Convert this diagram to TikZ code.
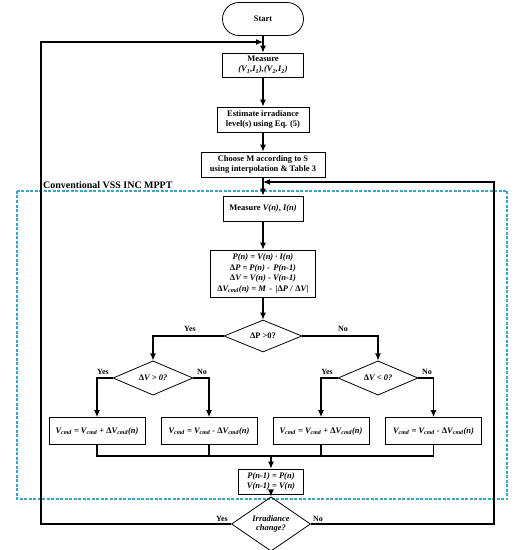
\documentclass[tikz,border=0pt]{standalone}
\usepackage{fontspec}
\setmainfont{Liberation Serif}
\usetikzlibrary{shapes.geometric,arrows.meta,positioning}
\definecolor{vssteal}{RGB}{60,165,195}
\newcommand{\vcmd}{V\textsubscript{cmd}}
\newcommand{\dlt}{\textup{Δ}}
\tikzset{
	procbox/.style={draw,line width=0.8bp,inner sep=1bp},
	decbox/.style={draw,diamond,line width=0.8bp,inner sep=0pt},
	flow/.style={line width=1.1bp},
	yn/.style={inner sep=0pt,font=\fontsize{8}{9}\selectfont\bfseries}
}
\begin{document}
\begin{tikzpicture}[x=1bp,y=-1bp,>={Latex[length=7bp,width=6bp]},
	every node/.append style={font=\fontsize{8.5}{10}\selectfont\bfseries,align=center}]
	\useasboundingbox (0,0) rectangle (523,550);
	% khung VSS INC
	\draw[vssteal,line width=1.4bp,dash pattern=on 3bp off 1.5bp] (17,191) rectangle (507,499);
	\node[anchor=south west,inner sep=0pt,font=\fontsize{10}{12}\selectfont\bfseries] (vsslbl) at (43,189) {Conventional VSS INC MPPT};
	% các khối chính
	\node[procbox,rounded corners=16.5bp,minimum width=81bp,minimum height=33bp] (start) at (263,19) {Start};
	\node[procbox,minimum width=81bp,minimum height=24bp] (meas1) at (263,65) {Measure\\\itshape (V\textsubscript{1},I\textsubscript{1}),(V\textsubscript{2},I\textsubscript{2})};
	\node[procbox,minimum width=92bp,minimum height=25bp] (est) at (263,119.5) {Estimate irradiance\\level(s) using Eq. (5)};
	\node[procbox,minimum width=124bp,minimum height=25bp] (chooseM) at (263,164.5) {Choose M according to S\\using interpolation \& Table 3};
	\node[procbox,minimum width=80bp,minimum height=25bp] (measVI) at (263,208.5) {Measure \textit{V(n)}, \textit{I(n)}};
	\node[procbox,minimum width=105bp,minimum height=47bp,font=\fontsize{8.5}{10.5}\selectfont\bfseries\itshape] (calc) at (263,273.5)
		{P(n) = V(n) · I(n)\\ \dlt P = P(n) -\, P(n-1)\\ \dlt V = V(n) - V(n-1)\\ \dlt\vcmd(n) = M\, -\, \textup{|}\dlt P / \dlt V\textup{|}};
	\node[decbox,minimum width=78bp,minimum height=32bp] (dP) at (263,336) {\dlt P >0?};
	\node[decbox,minimum width=80bp,minimum height=31bp,font=\fontsize{8.5}{10}\selectfont\bfseries\itshape] (dVpos) at (153,378) {\dlt V > 0?};
	\node[decbox,minimum width=80bp,minimum height=31bp,font=\fontsize{8.5}{10}\selectfont\bfseries\itshape] (dVneg) at (378,378) {\dlt V < 0?};
	% bốn khối cập nhật Vcmd
	\node[procbox,minimum width=96bp,minimum height=27bp,font=\fontsize{8.5}{10}\selectfont\bfseries\itshape] (b1) at (97,431) {\vcmd{} = \vcmd{} + \dlt\vcmd(n)};
	\node[procbox,minimum width=96bp,minimum height=27bp,font=\fontsize{8.5}{10}\selectfont\bfseries\itshape] (b2) at (209,431) {\vcmd{} = \vcmd{} - \dlt\vcmd(n)};
	\node[procbox,minimum width=96bp,minimum height=27bp,font=\fontsize{8.5}{10}\selectfont\bfseries\itshape] (b3) at (321,431) {\vcmd{} = \vcmd{} + \dlt\vcmd(n)};
	\node[procbox,minimum width=96bp,minimum height=27bp,font=\fontsize{8.5}{10}\selectfont\bfseries\itshape] (b4) at (433.5,431) {\vcmd{} = \vcmd{} - \dlt\vcmd(n)};
	\node[procbox,minimum width=65bp,minimum height=25bp,font=\fontsize{8.5}{10}\selectfont\bfseries\itshape] (upd) at (271,481.5) {P(n-1) = P(n)\\V(n-1) = V(n)};
	\node[decbox,minimum width=79bp,minimum height=32bp,font=\fontsize{8.5}{9.5}\selectfont\bfseries\itshape] (irr) at (271,524) {Irradiance\\change?};
	% nhãn Yes/No
	\node[yn] (y1) at (190,329) {Yes};
	\node[yn] (n1) at (343,329) {No};
	\node[yn] (y2) at (103,372) {Yes};
	\node[yn] (n2) at (202,372) {No};
	\node[yn] (y3) at (327,372) {Yes};
	\node[yn] (n3) at (427,372) {No};
	\node[yn] (y4) at (222,519) {Yes};
	\node[yn] (n4) at (318,519) {No};
	% các mũi tên
	\coordinate (ret1) at (263,42);
	\coordinate (ret2) at (263,182);
	\coordinate (lrail) at (41,0);
	\coordinate (rrail) at (494,0);
	\coordinate (mrg) at (271,456);
	\draw[flow,->] (start) -- (meas1);
	\draw[flow,->] (meas1) -- (est);
	\draw[flow,->] (est) -- (chooseM);
	\draw[flow,->] (chooseM) -- (measVI);
	\draw[flow,->] (measVI) -- (calc);
	\draw[flow,->] (calc) -- (dP);
	\draw[flow,->] (dP.west) -| (dVpos.north);
	\draw[flow,->] (dP.east) -| (dVneg.north);
	\draw[flow,->] (dVpos.west) -| (b1.north);
	\draw[flow,->] (dVpos.east) -| (b2.north);
	\draw[flow,->] (dVneg.west) -| (b3.north);
	\draw[flow,->] (dVneg.east) -| (b4.north);
	\draw[flow] (b1.south) -- (b1.south|-mrg) -- (b4.south|-mrg) -- (b4.south);
	\draw[flow] (b2.south) -- (b2.south|-mrg);
	\draw[flow] (b3.south) -- (b3.south|-mrg);
	\draw[flow,->] (mrg) -- (upd);
	\draw[flow,->] (upd) -- (irr);
	\draw[flow,->] (irr.west) -- (irr.west-|lrail) |- (ret1);
	\draw[flow,->] (irr.east) -- (irr.east-|rrail) |- (ret2);
\end{tikzpicture}
\end{document}
